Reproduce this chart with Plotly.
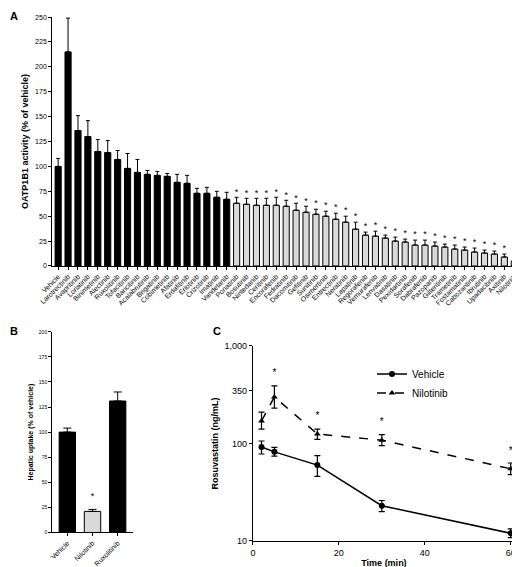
import plotly.graph_objects as go

drugs = ["Vehicle","Larotrectinib","Avapritinib","Lorlatinib","Binimetinib","Alectinib","Ruxolitinib","Tofacitinib","Baricitinib","Acalabrutinib","Brigatinib","Cobimetinib","Afatinib","Erdafitinib","Erlotinib","Crizotinib","Imatinib","Vandetanib",
 "Ponatinib","Bosutinib","Nintedanib","Ceritinib","Encorafenib","Fedratinib","Dacomitinib","Gefitinib","Sunitinib","Osimertinib","Entrectinib","Neratinib","Lapatinib","Regorafenib","Vemurafenib","Lenvatinib","Dasatinib","Pexidartinib","Sorafenib","Dabrafenib","Pazopanib","Gilteritinib","Trametinib","Fostamatinib","Cabozantinib","Ibrutinib","Upadacitinib","Axitinib","Nilotinib"]
activity = [100,215,136,130,115,114,107,98,94,92,91,90,84,83,73,73,69,67,
 63,62,61,61,61,60,56,54,52,50,47,44,37,31,30,28,25,24,21,21,20,19,17,16,14,13,12,9,5]
act_err = [8,34,15,16,12,12,9,15,13,4,4,3,8,8,5,6,6,7,
 6,6,7,7,8,6,7,6,5,5,6,6,7,3,5,3,4,3,5,5,4,3,4,3,4,3,3,3,5]
n_black = 18

b_cats = ["Vehicle","Nilotinib","Ruxolitinib"]
b_vals = [100,21,131]
b_err = [4,2,9]

t = [2,5,15,30,60]
veh = [92,82,60,23,12]
veh_err_up = [14,9,15,3,1.3]
veh_err_dn = [14,8,14,3,1.2]
nil = [170,300,125,108,55]
nil_err_up = [40,90,15,15,8]
nil_err_dn = [30,70,15,13,7]

colors = ["black"]*n_black + ["#d9d9d9"]*(len(activity)-n_black)
fig = go.Figure()
fig.add_trace(go.Bar(x=drugs, y=activity, marker=dict(color=colors, line=dict(color="black", width=1)),
    error_y=dict(type="data", array=act_err, arrayminus=[0]*len(activity), color="black", thickness=1, width=2),
    width=0.62, xaxis="x", yaxis="y", showlegend=False))
sx = drugs[n_black:]
sy = [v+e+5 for v, e in zip(activity[n_black:], act_err[n_black:])]
fig.add_trace(go.Scatter(x=sx, y=sy, mode="text", text=["*"]*len(sx), textfont=dict(size=9, color="black"),
    xaxis="x", yaxis="y", showlegend=False))

fig.add_trace(go.Bar(x=b_cats, y=b_vals, marker=dict(color=["black","#d9d9d9","black"], line=dict(color="black", width=1)),
    error_y=dict(type="data", array=b_err, arrayminus=[0]*3, color="black", thickness=1, width=4),
    width=0.65, xaxis="x2", yaxis="y2", showlegend=False))
fig.add_trace(go.Scatter(x=["Nilotinib"], y=[36], mode="text", text=["*"], textfont=dict(size=9),
    xaxis="x2", yaxis="y2", showlegend=False))

fig.add_trace(go.Scatter(x=t, y=veh, name="Vehicle", mode="lines+markers",
    line=dict(color="black", width=1.5), marker=dict(symbol="circle", size=6, color="black"),
    error_y=dict(type="data", array=veh_err_up, arrayminus=veh_err_dn, color="black", thickness=1.2, width=3),
    xaxis="x3", yaxis="y3"))
fig.add_trace(go.Scatter(x=t, y=nil, name="Nilotinib", mode="lines+markers",
    line=dict(color="black", width=1.5, dash="dash"), marker=dict(symbol="triangle-up", size=6, color="black"),
    error_y=dict(type="data", array=nil_err_up, arrayminus=nil_err_dn, color="black", thickness=1.2, width=3),
    xaxis="x3", yaxis="y3"))
fig.add_trace(go.Scatter(x=[5,15,30,60], y=[520,190,165,82], mode="text", text=["*"]*4, textfont=dict(size=10),
    xaxis="x3", yaxis="y3", showlegend=False))

def ax(size=7, **kw):
    d = dict(showline=True, linecolor="black", linewidth=1, ticks="outside", tickcolor="black", ticklen=3,
             showgrid=False, zeroline=False, automargin=False,
             tickfont=dict(family="Arial", size=size, color="black"))
    d.update(kw)
    return d

fig.update_layout(
    width=520, height=567, margin=dict(l=0, r=0, t=0, b=0), plot_bgcolor="white", paper_bgcolor="white",
    font=dict(family="Arial", color="black"), bargap=0.3,
    xaxis=ax(7, domain=[0.085, 0.985], tickangle=-45, range=[-0.6, 46.6]),
    yaxis=ax(7, domain=[0.545, 0.984], range=[0, 250], dtick=25,
             title=dict(text="<b>OATP1B1 activity (% of vehicle)</b>", font=dict(size=9), standoff=4)),
    xaxis2=ax(7, domain=[0.085, 0.24], tickangle=-45, anchor="y2", range=[-0.6, 2.6]),
    yaxis2=ax(5, domain=[0.075, 0.429], range=[0, 200], dtick=25, anchor="x2",
              title=dict(text="<b>Hepatic uptake (% of vehicle)</b>", font=dict(size=7), standoff=4)),
    xaxis3=ax(9, domain=[0.471, 0.975], range=[0, 61], dtick=20, anchor="y3",
              title=dict(text="<b>Time (min)</b>", font=dict(size=9), standoff=2)),
    yaxis3=ax(9, domain=[0.06, 0.404], type="log", range=[1, 3], anchor="x3",
              tickvals=[10,100,350,1000], ticktext=["10","100","350","1,000"],
              title=dict(text="<b>Rosuvastatin (ng/mL)</b>", font=dict(size=9), standoff=4)),
    legend=dict(x=0.7, y=0.38, xanchor="left", yanchor="top", font=dict(size=10), bgcolor="rgba(0,0,0,0)",
                tracegroupgap=0, itemwidth=30),
    annotations=[
        dict(text="<b>A</b>", x=0.0, y=1.0, xref="paper", yref="paper", showarrow=False, xanchor="left", yanchor="top", font=dict(size=11)),
        dict(text="<b>B</b>", x=0.0, y=0.445, xref="paper", yref="paper", showarrow=False, xanchor="left", yanchor="top", font=dict(size=11)),
        dict(text="<b>C</b>", x=0.39, y=0.445, xref="paper", yref="paper", showarrow=False, xanchor="left", yanchor="top", font=dict(size=11)),
    ])
fig.write_html("out.html")
